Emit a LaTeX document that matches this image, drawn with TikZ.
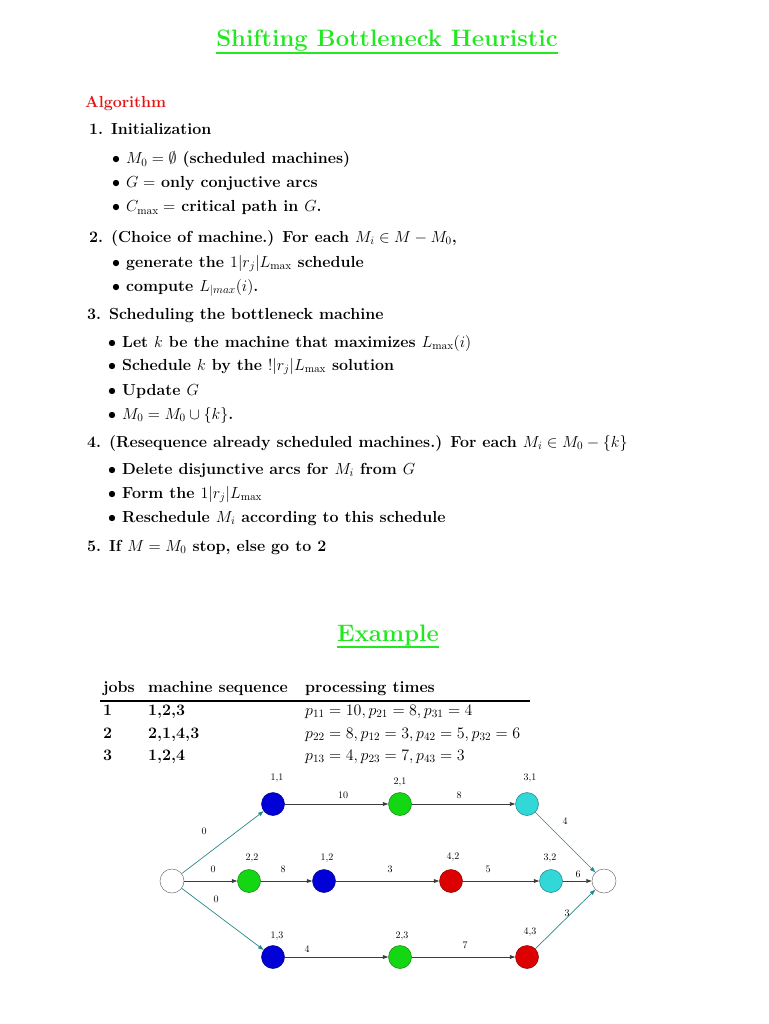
\RequirePackage{fix-cm}
\documentclass[tikz,border=0pt]{standalone}
\usetikzlibrary{arrows.meta}
\definecolor{titlegreen}{RGB}{34,232,34}
\definecolor{algred}{RGB}{228,20,20}
\definecolor{mblue}{RGB}{0,0,215}
\definecolor{mgreen}{RGB}{20,215,20}
\definecolor{mred}{RGB}{220,0,0}
\definecolor{mcyan}{RGB}{50,215,215}
\definecolor{tealarc}{RGB}{40,135,135}
\definecolor{grayarc}{RGB}{60,60,60}
\begin{document}
\begin{tikzpicture}[x=1pt,y=-1pt]
\useasboundingbox (0,0) rectangle (768,1024);
\tikzset{
  body/.style={anchor=base west, inner sep=0pt, font=\fontsize{16}{19}\selectfont\bfseries},
  heading/.style={anchor=base, inner sep=0pt, font=\fontsize{23.8}{28}\selectfont\bfseries, text=titlegreen},
  mnode/.style={circle, minimum size=23pt, inner sep=0pt, line width=0.5pt},
  endnode/.style={circle, minimum size=24pt, inner sep=0pt, line width=0.5pt, draw=black!55, fill=white},
  lab/.style={inner sep=0pt, font=\fontsize{10}{11}\selectfont},
  harc/.style={draw=grayarc, line width=0.8pt, -{Triangle[length=5.5pt,width=3.8pt]}},
  tarc/.style={draw=tealarc, line width=0.7pt, -{Triangle[length=5.5pt,width=3.8pt]}}
}
% Title
\node[heading] (title) at (387,47) {Shifting Bottleneck Heuristic};
\draw[titlegreen, line width=1.3pt] (title.west |- {(0,53)}) -- (title.east |- {(0,53)});

% Algorithm
\node[body, text=algred] (alg) at (85,108) {Algorithm};
\node[body] (s1) at (89,135) {1. Initialization};
\node[body] (b11) at (112,164) {$\bullet$ $M_0=\emptyset$ (scheduled machines)};
\node[body] (b12) at (112,188) {$\bullet$ $G=$ only conjuctive arcs};
\node[body] (b13) at (112,212) {$\bullet$ $C_{\max}=$ critical path in $G$.};
\node[body] (s2) at (89,242) {2. (Choice of machine.)\enspace For each $M_i\in M-M_0$,};
\node[body] (b21) at (112,267) {$\bullet$ generate the $1|r_j|L_{\max}$ schedule};
\node[body] (b22) at (112,291) {$\bullet$ compute $L_{|max}(i)$.};
\node[body] (s3) at (87,319) {3. Scheduling the bottleneck machine};
\node[body] (b31) at (108,347) {$\bullet$ Let $k$ be the machine that maximizes $L_{\max}(i)$};
\node[body] (b32) at (108,370) {$\bullet$ Schedule $k$ by the $!|r_j|L_{\max}$ solution};
\node[body] (b33) at (108,395) {$\bullet$ Update $G$};
\node[body] (b34) at (108,419) {$\bullet$ $M_0=M_0\cup\{k\}$.};
\node[body] (s4) at (87,447) {4. (Resequence already scheduled machines.)\enspace For each $M_i\in M_0-\{k\}$};
\node[body] (b41) at (108,474) {$\bullet$ Delete disjunctive arcs for $M_i$ from $G$};
\node[body] (b42) at (108,498) {$\bullet$ Form the $1|r_j|L_{\max}$};
\node[body] (b43) at (108,522) {$\bullet$ Reschedule $M_i$ according to this schedule};
\node[body] (s5) at (87,551) {5. If $M=M_0$ stop, else go to 2};

% Example
\node[heading] (ex) at (388,641) {Example};
\draw[titlegreen, line width=1.3pt] (ex.west |- {(0,647)}) -- (ex.east |- {(0,647)});

% Table
\node[body] (th1) at (103,692) {jobs};
\node[body] (th2) at (148,692) {machine sequence};
\node[body] (th3) at (305,692) {processing times};
\draw[line width=1.2pt] (100,701) -- (530,701);
\node[body] (r11) at (103,715) {1};
\node[body] (r12) at (148,715) {1,2,3};
\node[body] (r13) at (305,715) {$p_{11}=10,p_{21}=8,p_{31}=4$};
\node[body] (r21) at (103,738) {2};
\node[body] (r22) at (148,738) {2,1,4,3};
\node[body] (r23) at (305,738) {$p_{22}=8,p_{12}=3,p_{42}=5,p_{32}=6$};
\node[body] (r31) at (103,760) {3};
\node[body] (r32) at (148,760) {1,2,4};
\node[body] (r33) at (305,760) {$p_{13}=4,p_{23}=7,p_{43}=3$};

% Graph nodes
\node[endnode] (S) at (172,881) {};
\node[endnode] (T) at (604,881) {};
\node[mnode, fill=mblue, draw=mblue!60!black] (n11) at (273,804) {};
\node[mnode, fill=mgreen, draw=mgreen!60!black] (n21) at (400,804) {};
\node[mnode, fill=mcyan, draw=mcyan!60!black] (n31) at (527,804) {};
\node[mnode, fill=mgreen, draw=mgreen!60!black] (n22) at (249,881) {};
\node[mnode, fill=mblue, draw=mblue!60!black] (n12) at (324,881) {};
\node[mnode, fill=mred, draw=mred!60!black] (n42) at (451,881) {};
\node[mnode, fill=mcyan, draw=mcyan!60!black] (n32) at (551,881) {};
\node[mnode, fill=mblue, draw=mblue!60!black] (n13) at (273,957) {};
\node[mnode, fill=mgreen, draw=mgreen!60!black] (n23) at (400,957) {};
\node[mnode, fill=mred, draw=mred!60!black] (n43) at (527,957) {};

% Node labels
\node[lab] (t11) at (277,778) {1,1};
\node[lab] (t21) at (400,782) {2,1};
\node[lab] (t31) at (530,778) {3,1};
\node[lab] (t22) at (252,858) {2,2};
\node[lab] (t12) at (327,858) {1,2};
\node[lab] (t42) at (453,857) {4,2};
\node[lab] (t32) at (550,858) {3,2};
\node[lab] (t13) at (277,936) {1,3};
\node[lab] (t23) at (402,936) {2,3};
\node[lab] (t43) at (530,932) {4,3};

% Arcs
\draw[tarc] (S) -- (n11);
\draw[harc] (S) -- (n22);
\draw[tarc] (S) -- (n13);
\draw[harc] (n11) -- (n21);
\draw[harc] (n21) -- (n31);
\draw[tarc] (n31) -- (T);
\draw[harc] (n22) -- (n12);
\draw[harc] (n12) -- (n42);
\draw[harc] (n42) -- (n32);
\draw[harc] (n32) -- (T);
\draw[harc] (n13) -- (n23);
\draw[harc] (n23) -- (n43);
\draw[tarc] (n43) -- (T);

% Arc labels
\node[lab] (w1) at (343,795) {10};
\node[lab] (w2) at (459,795) {8};
\node[lab] (w3) at (565,821) {4};
\node[lab] (w4) at (204,831) {0};
\node[lab] (w5) at (213,869) {0};
\node[lab] (w6) at (283,869) {8};
\node[lab] (w7) at (390,869) {3};
\node[lab] (w8) at (488,869) {5};
\node[lab] (w9) at (578,874) {6};
\node[lab] (w10) at (216,899) {0};
\node[lab] (w11) at (567,913) {3};
\node[lab] (w12) at (307,949) {4};
\node[lab] (w13) at (465,945) {7};
\end{tikzpicture}
\end{document}
